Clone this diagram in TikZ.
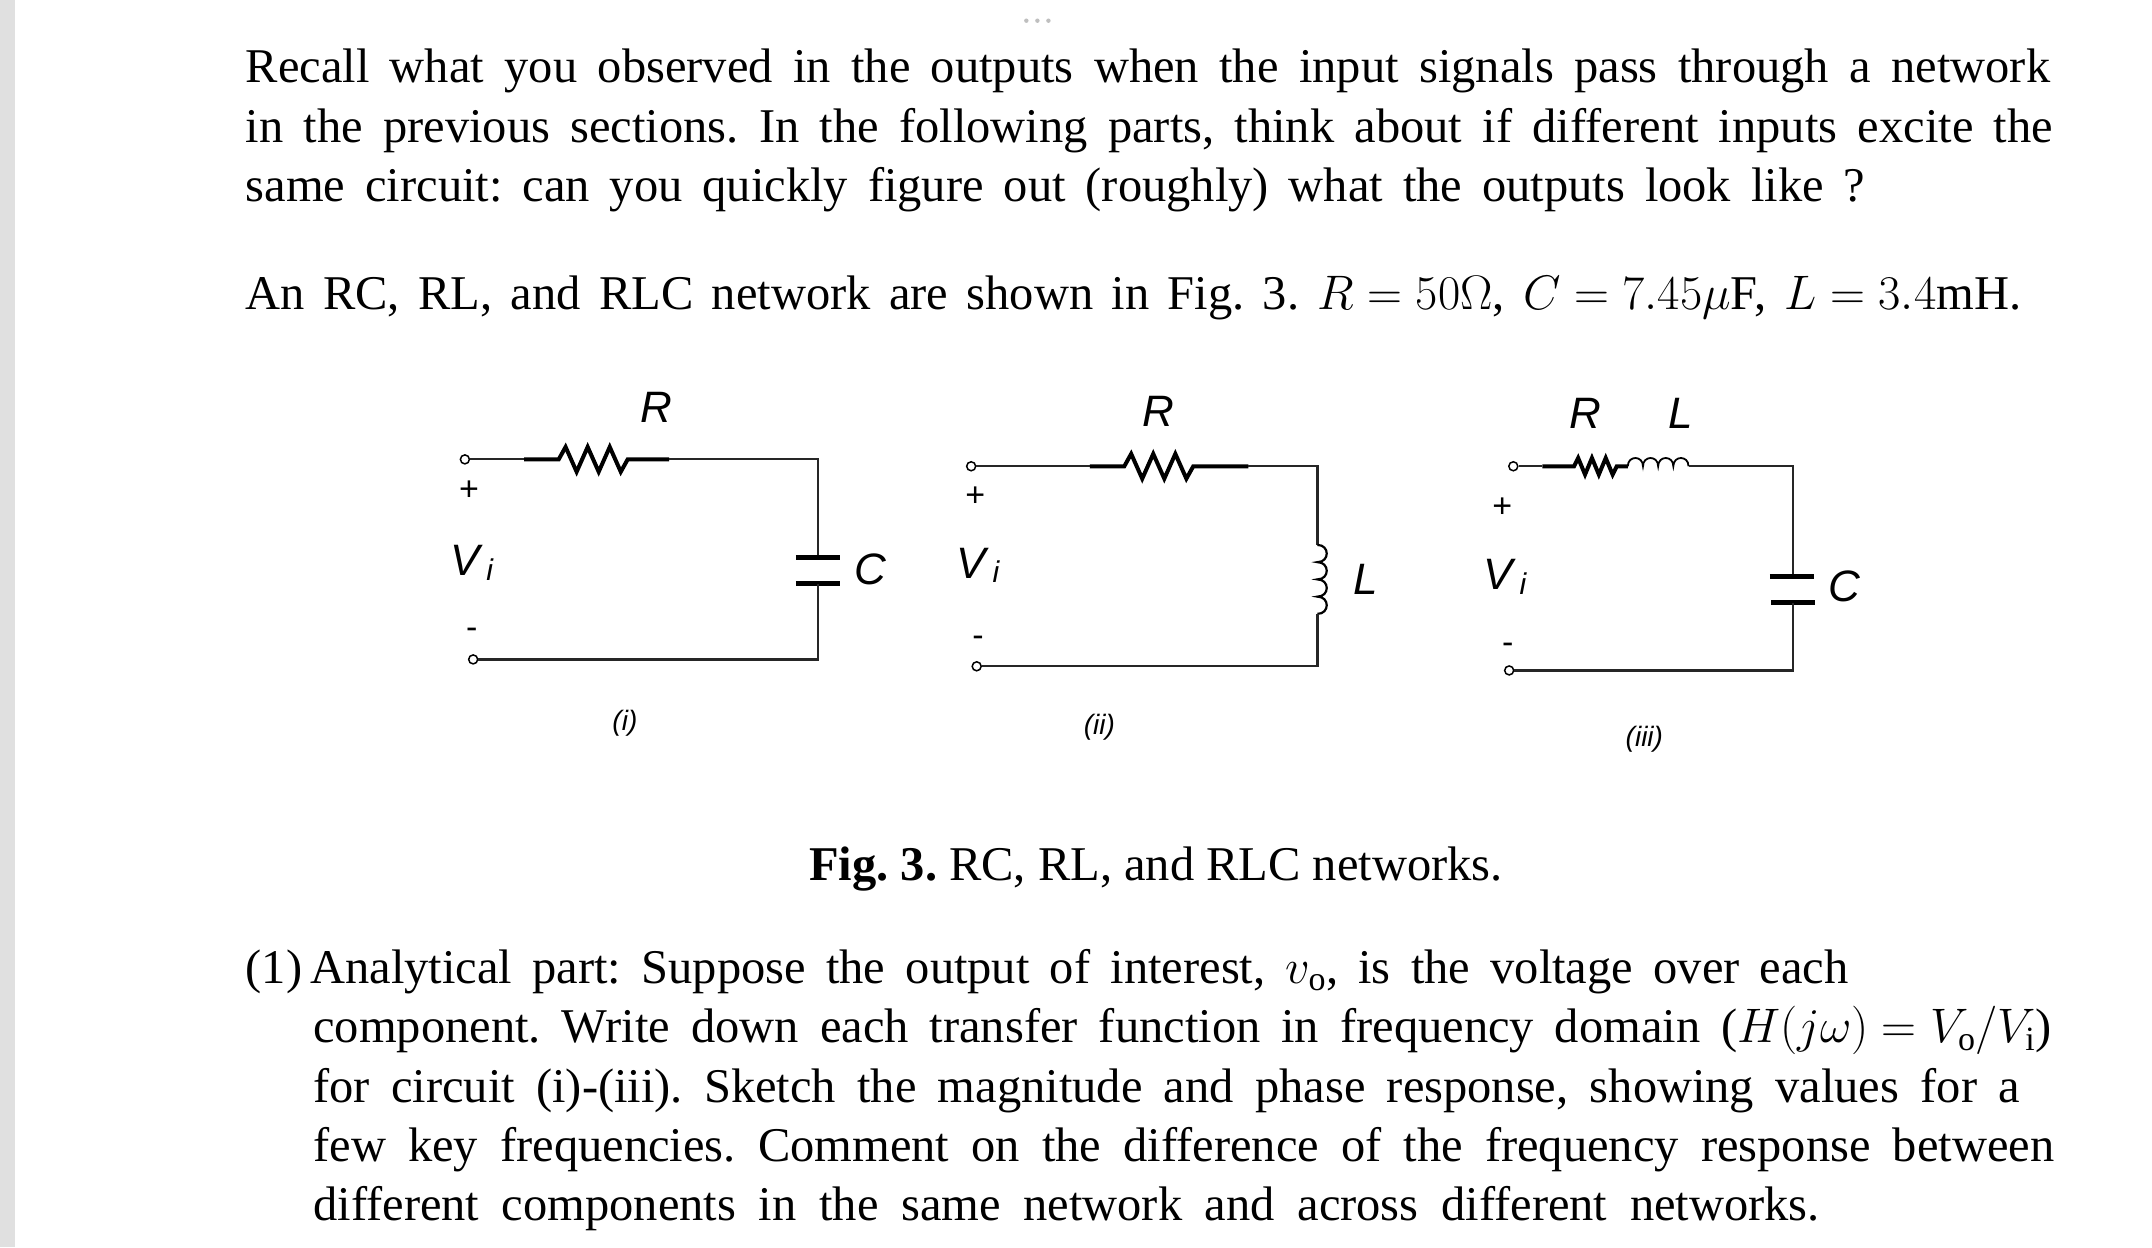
\RequirePackage{fix-cm}
\documentclass[tikz,border=0pt]{standalone}
\usepackage{fontspec}
\setmainfont{Liberation Serif}
\newfontfamily\cirf{Liberation Sans}
\DeclareMathSizes{48.5}{48.5}{34}{26}
\frenchspacing
\newcommand\linew[2]{\makebox[#1\dimexpr1.38pt\relax][s]{#2}}
\newcommand\eqs{\mskip5mu{=}\mskip5mu}
\begin{document}
\begin{tikzpicture}[x=1.38pt,y=-1.38pt,
  wire/.style={line width=2.2pt,black!85},
  thk/.style={line width=4pt},
  plate/.style={line width=5pt},
  term/.style={circle,draw,line width=1.5pt,fill=white,inner sep=0pt,minimum size=9pt},
  lab/.style={font=\cirf\itshape\fontsize{44}{48}\selectfont,inner sep=0pt},
  sgn/.style={font=\cirf\fontsize{34}{36}\selectfont,inner sep=0pt},
  ncap/.style={font=\cirf\itshape\fontsize{28}{30}\selectfont,inner sep=0pt},
  txt/.style={anchor=base west,inner sep=0pt,font=\fontsize{48.5}{58}\selectfont}]
\useasboundingbox (0,0) rectangle (1560,904.3);
\fill[black!12] (0,0) rectangle (11,904.3);
\foreach \i/\xx in {1/744,2/752,3/760}{\fill[black!25] (\xx,15) circle (1.6);}
% text
\node[txt] (l1) at (178,60) {\linew{1308}{Recall what you observed in the outputs when the input signals pass through a network}};
\node[txt] (l2) at (178,103) {\linew{1310}{in the previous sections. In the following parts, think about if different inputs excite the}};
\node[txt] (l3) at (178,146) {\linew{1174}{same circuit: can you quickly figure out (roughly) what the outputs look like ?}};
\node[txt] (l4) at (178,224) {\linew{1287}{An RC, RL, and RLC network are shown in Fig. 3. $R\eqs50\Omega$, $C\eqs7.45\mu$F, $L\eqs3.4$mH.}};
\node[txt,anchor=base] (fig) at (838,638) {\textbf{Fig. 3.} RC, RL, and RLC networks.};
\node[txt] (p1) at (178,713) {\linew{1162}{(1)\,Analytical part: Suppose the output of interest, $v_{\rm o}$, is the voltage over each}};
\node[txt] (p2) at (227,756) {\linew{1260}{component. Write down each transfer function in frequency domain ($H(j\omega)\eqs V_{\rm o}/V_{\rm i}$)}};
\node[txt] (p3) at (227,799) {\linew{1237}{for circuit (i)-(iii). Sketch the magnitude and phase response, showing values for a}};
\node[txt] (p4) at (227,842) {\linew{1262}{few key frequencies. Comment on the difference of the frequency response between}};
\node[txt] (p5) at (227,885) {\linew{1092}{different components in the same network and across different networks.}};
% ---------- circuit (i)
\node[term] (a1) at (337,333) {};
\node[term] (b1) at (343,478) {};
\coordinate (a1r) at (405,333); \coordinate (a1c) at (593,333);
\coordinate (a1p) at (593,404); \coordinate (a1q) at (593,423); \coordinate (b1c) at (593,478);
\draw[wire] (a1) -- (a1r);
\draw[thk] (380,333) -- (a1r) -- ++(5,-9) -- ++(8,18) -- ++(8,-18) -- ++(8,18) -- ++(8,-18) -- ++(8,18) -- ++(5,-9) -- (485,333);
\draw[wire] (485,333) -- (a1c) -- (a1p);
\draw[plate] (577,404) -- (609,404); \draw[plate] (577,423) -- (609,423);
\draw[wire] (a1q) -- (b1c) -- (b1);
\node[lab] (r1) at (476,295) {R};
\node[lab] (c1) at (631,413) {C};
\node[sgn] (pp1) at (340,356) {+};
\node[lab] (v1) at (342,408) {V\hspace{0.15em}{\fontsize{30}{30}\selectfont\raisebox{-0.15em}{i}}};
\node[sgn] (mm1) at (342,459) {-};
\node[ncap] (n1) at (453,524) {(i)};
% ---------- circuit (ii)
\node[term] (a2) at (704,338) {};
\node[term] (b2) at (708,483) {};
\coordinate (a2c) at (955,338); \coordinate (a2l) at (955,395); \coordinate (b2c) at (955,483);
\draw[wire] (a2) -- (790,338);
\draw[thk] (790,338) -- (815,338) -- ++(5,-9) -- ++(8,18) -- ++(8,-18) -- ++(8,18) -- ++(8,-18) -- ++(8,18) -- ++(5,-9) -- (905,338);
\draw[wire] (905,338) -- (a2c) -- (a2l);
\draw[line width=2.2pt] (a2l) .. controls (964,395) and (964,407.5) .. (955,407.5)
  .. controls (964,407.5) and (964,420) .. (955,420)
  .. controls (964,420) and (964,432.5) .. (955,432.5)
  .. controls (964,432.5) and (964,445) .. (955,445);
\draw[wire] (955,445) -- (b2c) -- (b2);
\node[lab] (r2) at (840,298) {R};
\node[lab] (l2c) at (990,420) {L};
\node[sgn] (pp2) at (707,360) {+};
\node[lab] (v2) at (709,410) {V\hspace{0.15em}{\fontsize{30}{30}\selectfont\raisebox{-0.15em}{i}}};
\node[sgn] (mm2) at (709,465) {-};
\node[ncap] (n2) at (797,527) {(ii)};
% ---------- circuit (iii)
\node[term] (a3) at (1097,338) {};
\node[term] (b3) at (1094,486) {};
\coordinate (a3c) at (1300,338); \coordinate (a3p) at (1300,418);
\coordinate (a3q) at (1300,437); \coordinate (b3c) at (1300,486);
\draw[wire] (a3) -- (1118,338);
\draw[thk] (1118,338) -- (1141,338) -- ++(3,-6) -- ++(5,12) -- ++(5,-12) -- ++(5,12) -- ++(5,-12) -- ++(5,12) -- ++(3,-6) -- (1180,338);
\draw[line width=1.8pt] (1180,338) .. controls (1180,330) and (1191,330) .. (1191,338)
  .. controls (1191,330) and (1202,330) .. (1202,338)
  .. controls (1202,330) and (1213,330) .. (1213,338)
  .. controls (1213,330) and (1224,330) .. (1224,338);
\draw[wire] (1224,338) -- (a3c) -- (a3p);
\draw[plate] (1283,418) -- (1315,418); \draw[plate] (1284,437) -- (1316,437);
\draw[wire] (a3q) -- (b3c) -- (b3);
\node[lab] (r3) at (1149,300) {R};
\node[lab] (l3c) at (1218,300) {L};
\node[lab] (c3) at (1337,425) {C};
\node[sgn] (pp3) at (1089,368) {+};
\node[lab] (v3) at (1091,418) {V\hspace{0.15em}{\fontsize{30}{30}\selectfont\raisebox{-0.15em}{i}}};
\node[sgn] (mm3) at (1093,470) {-};
\node[ncap] (n3) at (1192,536) {(iii)};
\end{tikzpicture}
\end{document}
